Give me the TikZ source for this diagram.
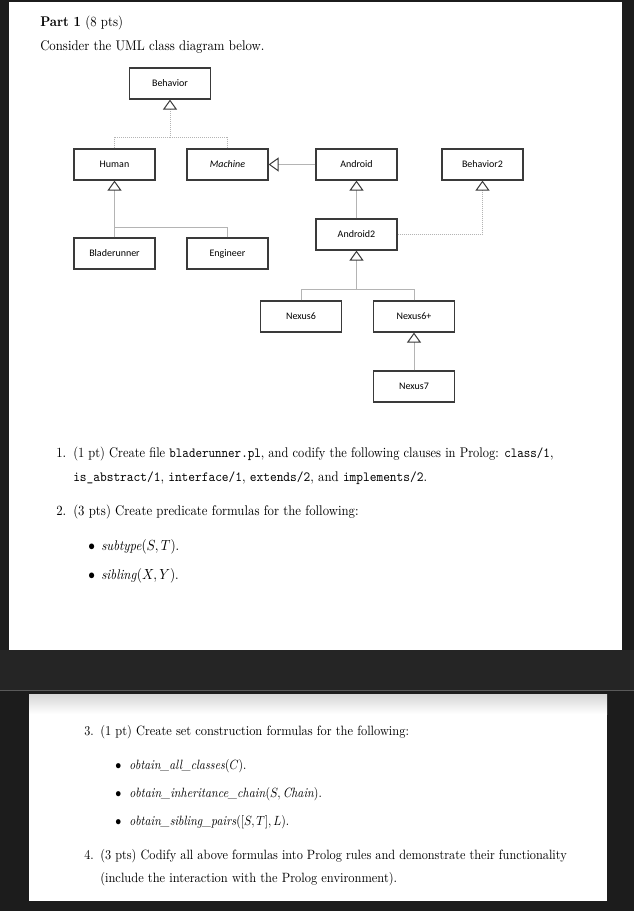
\documentclass[tikz,border=0pt]{standalone}
\usepackage{fontspec}
\usepackage{graphicx}
\usetikzlibrary{arrows.meta}
\newfontfamily\umlfont{Carlito}
\definecolor{bgdark}{HTML}{1C1C1C}
\definecolor{band}{HTML}{252525}
\definecolor{sepline}{HTML}{5A5A5A}
\definecolor{boxline}{HTML}{3A3A3A}
\definecolor{conn}{HTML}{B4B4B4}
\definecolor{shadetop}{HTML}{D6D6D6}
\newcommand{\sq}[2][0.913]{\scalebox{#1}[1]{#2}}
\begin{document}
\begin{tikzpicture}[x=0.75pt,y=-0.75pt,
  cls/.style={draw=boxline, line width=0.9pt, fill=white, minimum width=60.75pt, minimum height=23.25pt, inner sep=0pt, font=\umlfont\fontsize{7.5}{9}\selectfont},
  gentip/.style={-{Triangle[open, length=7.5pt, width=10.5pt, color=boxline, line width=0.75pt]}},
  solidconn/.style={draw=conn, line width=0.75pt},
  dotconn/.style={draw=conn, line width=0.75pt, dash pattern=on 0.75pt off 0.75pt},
  txt/.style={anchor=base west, inner sep=0pt, font=\fontsize{10.5}{12.6}\selectfont},
  txtb/.style={anchor=base west, inner sep=0pt, font=\fontsize{10.1}{12.1}\selectfont},
]
\useasboundingbox (0,0) rectangle (634,911);
% backgrounds
\fill[bgdark] (0,0) rectangle (634,911);
\fill[band] (0,650) rectangle (634,690);
\fill[sepline] (0,690) rectangle (634,691);
\fill[white] (9,2) rectangle (622,650);
\fill[white] (29,694) rectangle (607,901);
\shade[top color=shadetop, bottom color=white] (29,694) rectangle (607,714);

% header
\node[txt] (title) at (40,26.5) {\sq{\textbf{Part 1} (8 pts)}};
\node[txt] (intro) at (40,50) {\sq{Consider the UML class diagram below.}};

% classes
\node[cls] (behavior) at (170,83.5) {Behavior};
\node[cls] (human) at (114.5,164.5) {Human};
\node[cls] (machine) at (227.5,164.5) {\itshape Machine};
\node[cls] (android) at (356.5,164.5) {Android};
\node[cls] (behavior2) at (482.5,164.5) {Behavior2};
\node[cls] (bladerunner) at (114.5,253.5) {Bladerunner};
\node[cls] (engineer) at (227.5,253.5) {Engineer};
\node[cls] (android2) at (356.5,234.5) {Android2};
\node[cls] (nexus6) at (301,316.5) {Nexus6};
\node[cls] (nexus6p) at (414,316.5) {Nexus6+};
\node[cls] (nexus7) at (414,386.5) {Nexus7};

% junctions
\coordinate (bj) at (170,137);
\coordinate (hj) at (114.5,227);
\coordinate (nj) at (356.5,289);

% connectors
\draw[dotconn, gentip] (human.north) |- (bj) -- (behavior.south);
\draw[dotconn] (machine.north) |- (bj);
\draw[solidconn, gentip] (engineer.north) |- (hj) -- (human.south);
\draw[solidconn] (bladerunner.north) -- (hj);
\draw[solidconn, gentip] (android.west) -- (machine.east);
\draw[solidconn, gentip] (android2.north) -- (android.south);
\draw[dotconn, gentip] (android2.east) -| (behavior2.south);
\draw[solidconn, gentip] (nexus6.north) |- (nj) -- (android2.south);
\draw[solidconn] (nexus6p.north) |- (nj);
\draw[solidconn, gentip] (nexus7.north) -- (nexus6p.south);

% questions, page 1
\node[txt] (n1) at (56,457) {\sq{1.}};
\node[txt] (q1a) at (73,457) {\sq[0.889]{(1 pt) Create file \texttt{bladerunner.pl}, and codify the following clauses in Prolog: \texttt{class/1},}};
\node[txt] (q1b) at (73,481) {\sq{\texttt{is\_abstract/1}, \texttt{interface/1}, \texttt{extends/2}, and \texttt{implements/2}.}};
\node[txt] (n2) at (56,515) {\sq{2.}};
\node[txt] (q2) at (73,515) {\sq{(3 pts) Create predicate formulas for the following:}};
\node[txt] (b21) at (88,550) {\sq{$\bullet$}};
\node[txt] (q21) at (101,550) {\sq{\textit{subtype}$(S, T)$.}};
\node[txt] (b22) at (88,579) {\sq{$\bullet$}};
\node[txt] (q22) at (101,579) {\sq{\textit{sibling}$(X, Y)$.}};

% questions, page 2
\node[txtb] (n3) at (84,735.5) {\sq[0.9]{3.}};
\node[txtb] (q3) at (100,735.5) {\sq[0.921]{(1 pt) Create set construction formulas for the following:}};
\node[txtb] (b31) at (115,769.5) {\sq[0.9]{$\bullet$}};
\node[txtb] (q31) at (129,769.5) {\sq[0.868]{\textit{obtain\_all\_classes}$(C)$.}};
\node[txtb] (b32) at (115,797.5) {\sq[0.9]{$\bullet$}};
\node[txtb] (q32) at (129,797.5) {\sq[0.889]{\textit{obtain\_inheritance\_chain}$(S, \mathit{Chain})$.}};
\node[txtb] (b33) at (115,825.5) {\sq[0.9]{$\bullet$}};
\node[txtb] (q33) at (129,825.5) {\sq[0.878]{\textit{obtain\_sibling\_pairs}$([S, T], L)$.}};
\node[txtb] (n4) at (84,859.5) {\sq[0.9]{4.}};
\node[txtb] (q4a) at (100,859.5) {\sq[0.911]{(3 pts) Codify all above formulas into Prolog rules and demonstrate their functionality}};
\node[txtb] (q4b) at (100,882.5) {\sq[0.924]{(include the interaction with the Prolog environment).}};
\end{tikzpicture}
\end{document}
